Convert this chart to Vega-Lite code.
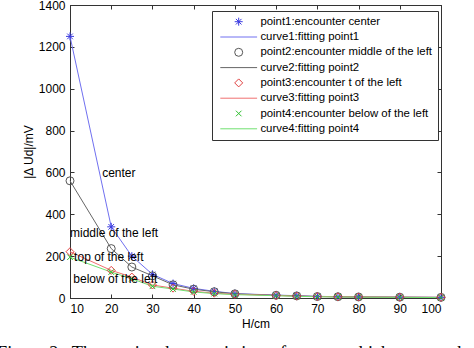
{
  "$schema": "https://vega.github.io/schema/vega-lite/v6.json",
  "width": 371,
  "height": 293,
  "autosize": "none",
  "padding": {"left": 70, "top": 5, "right": 33, "bottom": 50},
  "background": "white",
  "config": {
    "view": {"stroke": "#333333", "strokeWidth": 1},
    "font": "Liberation Sans",
    "axis": {
      "labelFont": "Liberation Sans", "labelFontSize": 12, "labelColor": "black",
      "titleFont": "Liberation Sans", "titleFontSize": 12, "titleFontWeight": "normal", "titleColor": "black",
      "grid": false, "tickSize": -4, "tickColor": "#333333", "domainColor": "#333333", "labelPadding": 8, "format": "d"
    }
  },
  "title": {
    "text": "Figure 2.\u00a0 The\u00a0 static\u00a0 characteristics\u00a0 of\u00a0 target\u00a0 which\u00a0 approach",
    "orient": "bottom", "anchor": "start", "frame": "group", "dx": -73, "offset": 16,
    "font": "Liberation Serif", "fontSize": 18.3, "fontWeight": "normal", "color": "black"
  },
  "datasets": {
    "points": [
      {"H": 10, "v": 1250, "label": "point1:encounter center"},
      {"H": 20, "v": 340, "label": "point1:encounter center"},
      {"H": 25, "v": 200, "label": "point1:encounter center"},
      {"H": 30, "v": 113, "label": "point1:encounter center"},
      {"H": 35, "v": 69, "label": "point1:encounter center"},
      {"H": 40, "v": 46, "label": "point1:encounter center"},
      {"H": 45, "v": 32, "label": "point1:encounter center"},
      {"H": 50, "v": 21, "label": "point1:encounter center"},
      {"H": 60, "v": 14, "label": "point1:encounter center"},
      {"H": 65, "v": 11, "label": "point1:encounter center"},
      {"H": 70, "v": 8, "label": "point1:encounter center"},
      {"H": 75, "v": 6, "label": "point1:encounter center"},
      {"H": 80, "v": 5, "label": "point1:encounter center"},
      {"H": 90, "v": 4, "label": "point1:encounter center"},
      {"H": 100, "v": 3, "label": "point1:encounter center"},
      {"H": 10, "v": 560, "label": "point2:encounter middle of the left"},
      {"H": 20, "v": 236, "label": "point2:encounter middle of the left"},
      {"H": 25, "v": 148, "label": "point2:encounter middle of the left"},
      {"H": 30, "v": 106, "label": "point2:encounter middle of the left"},
      {"H": 35, "v": 63, "label": "point2:encounter middle of the left"},
      {"H": 40, "v": 42, "label": "point2:encounter middle of the left"},
      {"H": 45, "v": 30, "label": "point2:encounter middle of the left"},
      {"H": 50, "v": 20, "label": "point2:encounter middle of the left"},
      {"H": 60, "v": 13, "label": "point2:encounter middle of the left"},
      {"H": 65, "v": 10, "label": "point2:encounter middle of the left"},
      {"H": 70, "v": 7, "label": "point2:encounter middle of the left"},
      {"H": 75, "v": 6, "label": "point2:encounter middle of the left"},
      {"H": 80, "v": 5, "label": "point2:encounter middle of the left"},
      {"H": 90, "v": 4, "label": "point2:encounter middle of the left"},
      {"H": 100, "v": 3, "label": "point2:encounter middle of the left"},
      {"H": 10, "v": 221, "label": "point3:encounter t of the left"},
      {"H": 20, "v": 132, "label": "point3:encounter t of the left"},
      {"H": 25, "v": 100, "label": "point3:encounter t of the left"},
      {"H": 30, "v": 62, "label": "point3:encounter t of the left"},
      {"H": 35, "v": 47, "label": "point3:encounter t of the left"},
      {"H": 40, "v": 32, "label": "point3:encounter t of the left"},
      {"H": 45, "v": 23, "label": "point3:encounter t of the left"},
      {"H": 50, "v": 18, "label": "point3:encounter t of the left"},
      {"H": 60, "v": 12, "label": "point3:encounter t of the left"},
      {"H": 65, "v": 9, "label": "point3:encounter t of the left"},
      {"H": 70, "v": 7, "label": "point3:encounter t of the left"},
      {"H": 75, "v": 6, "label": "point3:encounter t of the left"},
      {"H": 80, "v": 5, "label": "point3:encounter t of the left"},
      {"H": 90, "v": 4, "label": "point3:encounter t of the left"},
      {"H": 100, "v": 3, "label": "point3:encounter t of the left"},
      {"H": 10, "v": 195, "label": "point4:encounter below of the left"},
      {"H": 20, "v": 124, "label": "point4:encounter below of the left"},
      {"H": 25, "v": 92, "label": "point4:encounter below of the left"},
      {"H": 30, "v": 56, "label": "point4:encounter below of the left"},
      {"H": 35, "v": 43, "label": "point4:encounter below of the left"},
      {"H": 40, "v": 29, "label": "point4:encounter below of the left"},
      {"H": 45, "v": 21, "label": "point4:encounter below of the left"},
      {"H": 50, "v": 16, "label": "point4:encounter below of the left"},
      {"H": 60, "v": 11, "label": "point4:encounter below of the left"},
      {"H": 65, "v": 8, "label": "point4:encounter below of the left"},
      {"H": 70, "v": 6, "label": "point4:encounter below of the left"},
      {"H": 75, "v": 5, "label": "point4:encounter below of the left"},
      {"H": 80, "v": 4, "label": "point4:encounter below of the left"},
      {"H": 90, "v": 3, "label": "point4:encounter below of the left"},
      {"H": 100, "v": 2, "label": "point4:encounter below of the left"}
    ],
    "curves": [
      {"H": 10, "v": 1250, "label": "curve1:fitting point1"},
      {"H": 20, "v": 340, "label": "curve1:fitting point1"},
      {"H": 25, "v": 200, "label": "curve1:fitting point1"},
      {"H": 30, "v": 113, "label": "curve1:fitting point1"},
      {"H": 35, "v": 69, "label": "curve1:fitting point1"},
      {"H": 40, "v": 46, "label": "curve1:fitting point1"},
      {"H": 45, "v": 32, "label": "curve1:fitting point1"},
      {"H": 50, "v": 21, "label": "curve1:fitting point1"},
      {"H": 60, "v": 14, "label": "curve1:fitting point1"},
      {"H": 65, "v": 11, "label": "curve1:fitting point1"},
      {"H": 70, "v": 8, "label": "curve1:fitting point1"},
      {"H": 75, "v": 6, "label": "curve1:fitting point1"},
      {"H": 80, "v": 5, "label": "curve1:fitting point1"},
      {"H": 90, "v": 4, "label": "curve1:fitting point1"},
      {"H": 100, "v": 3, "label": "curve1:fitting point1"},
      {"H": 10, "v": 560, "label": "curve2:fitting point2"},
      {"H": 20, "v": 236, "label": "curve2:fitting point2"},
      {"H": 25, "v": 148, "label": "curve2:fitting point2"},
      {"H": 30, "v": 106, "label": "curve2:fitting point2"},
      {"H": 35, "v": 63, "label": "curve2:fitting point2"},
      {"H": 40, "v": 42, "label": "curve2:fitting point2"},
      {"H": 45, "v": 30, "label": "curve2:fitting point2"},
      {"H": 50, "v": 20, "label": "curve2:fitting point2"},
      {"H": 60, "v": 13, "label": "curve2:fitting point2"},
      {"H": 65, "v": 10, "label": "curve2:fitting point2"},
      {"H": 70, "v": 7, "label": "curve2:fitting point2"},
      {"H": 75, "v": 6, "label": "curve2:fitting point2"},
      {"H": 80, "v": 5, "label": "curve2:fitting point2"},
      {"H": 90, "v": 4, "label": "curve2:fitting point2"},
      {"H": 100, "v": 3, "label": "curve2:fitting point2"},
      {"H": 10, "v": 221, "label": "curve3:fitting point3"},
      {"H": 20, "v": 132, "label": "curve3:fitting point3"},
      {"H": 25, "v": 100, "label": "curve3:fitting point3"},
      {"H": 30, "v": 62, "label": "curve3:fitting point3"},
      {"H": 35, "v": 47, "label": "curve3:fitting point3"},
      {"H": 40, "v": 32, "label": "curve3:fitting point3"},
      {"H": 45, "v": 23, "label": "curve3:fitting point3"},
      {"H": 50, "v": 18, "label": "curve3:fitting point3"},
      {"H": 60, "v": 12, "label": "curve3:fitting point3"},
      {"H": 65, "v": 9, "label": "curve3:fitting point3"},
      {"H": 70, "v": 7, "label": "curve3:fitting point3"},
      {"H": 75, "v": 6, "label": "curve3:fitting point3"},
      {"H": 80, "v": 5, "label": "curve3:fitting point3"},
      {"H": 90, "v": 4, "label": "curve3:fitting point3"},
      {"H": 100, "v": 3, "label": "curve3:fitting point3"},
      {"H": 10, "v": 195, "label": "curve4:fitting point4"},
      {"H": 20, "v": 124, "label": "curve4:fitting point4"},
      {"H": 25, "v": 92, "label": "curve4:fitting point4"},
      {"H": 30, "v": 56, "label": "curve4:fitting point4"},
      {"H": 35, "v": 43, "label": "curve4:fitting point4"},
      {"H": 40, "v": 29, "label": "curve4:fitting point4"},
      {"H": 45, "v": 21, "label": "curve4:fitting point4"},
      {"H": 50, "v": 16, "label": "curve4:fitting point4"},
      {"H": 60, "v": 11, "label": "curve4:fitting point4"},
      {"H": 65, "v": 8, "label": "curve4:fitting point4"},
      {"H": 70, "v": 6, "label": "curve4:fitting point4"},
      {"H": 75, "v": 5, "label": "curve4:fitting point4"},
      {"H": 80, "v": 4, "label": "curve4:fitting point4"},
      {"H": 90, "v": 3, "label": "curve4:fitting point4"},
      {"H": 100, "v": 2, "label": "curve4:fitting point4"}
    ],
    "notes": [
      {"H": 17.8, "v": 598, "text": "center"},
      {"H": 10, "v": 310, "text": "middle of the left"},
      {"H": 11, "v": 198, "text": "top of the left"},
      {"H": 10.8, "v": 90, "text": "below of the left"}
    ]
  },
  "layer": [
    {
      "encoding": {
        "x": {
          "field": "H", "type": "quantitative", "title": "H/cm",
          "scale": {"domain": [10, 100], "nice": false, "zero": false},
          "axis": {"values": [10, 20, 30, 40, 50, 60, 70, 80, 90, 100], "titlePadding": 4, "labelPadding": 9}
        },
        "y": {
          "field": "v", "type": "quantitative", "title": "|\u0394 Ud|/mV",
          "scale": {"domain": [0, 1400], "nice": false},
          "axis": {"values": [0, 200, 400, 600, 800, 1000, 1200, 1400], "titlePadding": 3, "labelPadding": 9}
        }
      },
      "layer": [
        {
          "data": {"name": "curves"},
          "mark": {"type": "line", "strokeWidth": 1, "clip": false},
          "encoding": {
            "color": {
              "field": "label", "type": "nominal",
              "scale": {
                "domain": ["point1:encounter center", "curve1:fitting point1", "point2:encounter middle of the left", "curve2:fitting point2", "point3:encounter t of the left", "curve3:fitting point3", "point4:encounter below of the left", "curve4:fitting point4"],
                "range": ["#3a3ae0", "#7070f0", "#555555", "#666666", "#e04040", "#f07070", "#30c030", "#70e070"]
              },
              "legend": {
                "title": null, "orient": "none", "legendX": 142, "legendY": 6,
                "strokeColor": "#333333", "fillColor": "white", "padding": 5,
                "labelFont": "Liberation Sans", "labelFontSize": 11.4, "labelColor": "black", "labelLimit": 300,
                "symbolSize": 64, "symbolStrokeWidth": 1, "symbolOffset": 16, "labelOffset": 16, "rowPadding": 2.3
              }
            }
          }
        },
        {
          "data": {"name": "points"},
          "mark": {"type": "point", "filled": false, "size": 64, "strokeWidth": 1, "opacity": 1, "clip": false},
          "encoding": {
            "color": {"field": "label", "type": "nominal"},
            "shape": {
              "field": "label", "type": "nominal",
              "scale": {
                "domain": ["point1:encounter center", "curve1:fitting point1", "point2:encounter middle of the left", "curve2:fitting point2", "point3:encounter t of the left", "curve3:fitting point3", "point4:encounter below of the left", "curve4:fitting point4"],
                "range": ["M-1,0L1,0M0,-1L0,1M-0.7,-0.7L0.7,0.7M-0.7,0.7L0.7,-0.7", "M-4.6,0L4.6,0", "circle", "M-4.6,0L4.6,0", "diamond", "M-4.6,0L4.6,0", "M-0.7,-0.7L0.7,0.7M-0.7,0.7L0.7,-0.7", "M-4.6,0L4.6,0"]
              }
            }
          }
        },
        {
          "data": {"name": "notes"},
          "mark": {"type": "text", "align": "left", "baseline": "middle", "font": "Liberation Sans", "fontSize": 12, "color": "black"},
          "encoding": {"text": {"field": "text", "type": "nominal"}}
        }
      ]
    },
    {
      "data": {"name": "notes"},
      "mark": {"type": "point", "opacity": 0},
      "encoding": {
        "x": {"field": "H", "type": "quantitative", "scale": {"domain": [10, 100], "nice": false, "zero": false}, "axis": {"orient": "top", "labels": false, "title": null, "values": [10, 20, 30, 40, 50, 60, 70, 80, 90, 100]}},
        "y": {"field": "v", "type": "quantitative", "scale": {"domain": [0, 1400], "nice": false}, "axis": {"orient": "right", "labels": false, "title": null, "values": [0, 200, 400, 600, 800, 1000, 1200, 1400]}}
      }
    }
  ],
  "resolve": {"axis": {"x": "independent", "y": "independent"}}
}
